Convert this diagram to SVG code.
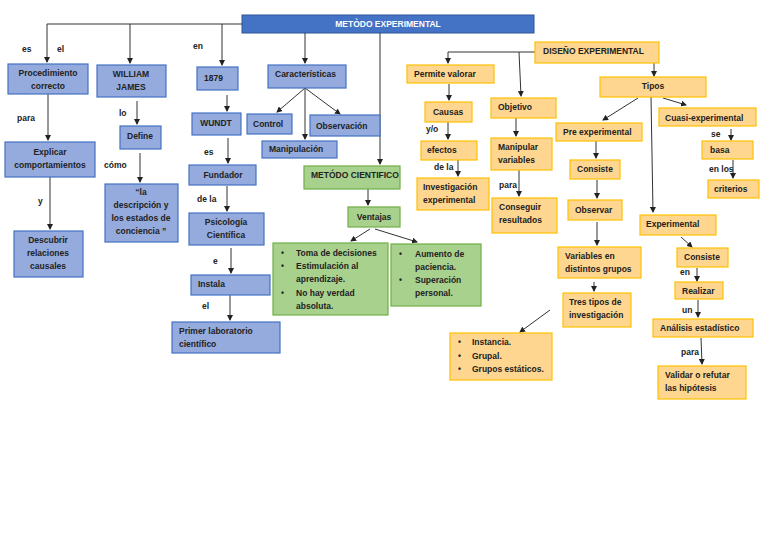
<svg xmlns="http://www.w3.org/2000/svg" width="768" height="543" viewBox="0 0 768 543">
<style>
text{font-family:"Liberation Sans",Arial,sans-serif;font-size:8.5px;font-weight:bold;fill:#222}
.b{fill:#95abdd;stroke:#4472c4;stroke-width:1.2}
.o{fill:#ffd68f;stroke:#ffc000;stroke-width:1.2}
.g{fill:#a9d18e;stroke:#70ad47;stroke-width:1.2}
.c line,.c path{stroke:#333;stroke-width:1;fill:none;marker-end:url(#a)}
.c path.n{marker-end:none}
.l{font-weight:bold}
</style>
<defs><marker id="a" markerWidth="6" markerHeight="6" refX="5" refY="3" orient="auto" markerUnits="userSpaceOnUse"><path d="M0,0L6,3L0,6z" fill="#222"/></marker></defs>
<rect width="768" height="543" fill="#fff"/>
<g id="title"><rect x="242" y="15" width="292" height="18" fill="#4472c4" stroke="#2f5597"/><text x="388" y="27" text-anchor="middle" style="fill:#fff">METÒDO EXPERIMENTAL</text></g>
<g class="c">
<path class="n" d="M242,24H47"/><line x1="47" y1="24" x2="47" y2="62"/>
<line x1="130" y1="24" x2="130" y2="63"/><line x1="222" y1="24" x2="222" y2="65"/>
<line x1="305" y1="33" x2="305" y2="63"/><line x1="380" y1="33" x2="380" y2="164"/>
<line x1="48" y1="94" x2="48" y2="140"/><line x1="50" y1="177" x2="50" y2="229"/>
<line x1="137" y1="101" x2="137" y2="124"/><line x1="140" y1="153" x2="140" y2="182"/>
<line x1="227" y1="95" x2="227" y2="111"/><line x1="228" y1="138" x2="228" y2="163"/>
<line x1="227" y1="186" x2="227" y2="211"/><line x1="231" y1="248" x2="231" y2="273"/>
<line x1="230" y1="291" x2="230" y2="320"/>
<line x1="305" y1="88" x2="277" y2="112"/><line x1="305" y1="88" x2="305" y2="139"/><line x1="305" y1="88" x2="340" y2="114"/>
<line x1="368" y1="187" x2="368" y2="205"/><line x1="370" y1="229" x2="351" y2="241"/><line x1="375" y1="229" x2="417" y2="242"/>
<path class="n" d="M535,52H448"/><line x1="448" y1="52" x2="448" y2="63"/>
<line x1="519" y1="52" x2="521" y2="96"/><line x1="654" y1="63" x2="654" y2="76"/>
<line x1="449" y1="84" x2="449" y2="100"/><line x1="448" y1="122" x2="448" y2="139"/><line x1="458" y1="160" x2="458" y2="176"/>
<line x1="516" y1="118" x2="516" y2="136"/><line x1="519" y1="170" x2="519" y2="196"/>
<line x1="638" y1="98" x2="603" y2="120"/><line x1="651" y1="97" x2="653" y2="212"/><line x1="663" y1="98" x2="686" y2="105"/>
<line x1="596" y1="141" x2="596" y2="158"/><line x1="597" y1="180" x2="597" y2="198"/><line x1="597" y1="222" x2="597" y2="245"/>
<line x1="594" y1="282" x2="594" y2="291"/><line x1="550" y1="310" x2="520" y2="332"/>
<line x1="731" y1="129" x2="731" y2="140"/><line x1="733" y1="160" x2="733" y2="178"/>
<line x1="681" y1="237" x2="692" y2="247"/><line x1="697" y1="268" x2="697" y2="281"/><line x1="698" y1="300" x2="698" y2="317"/><line x1="701" y1="338" x2="702" y2="364"/>
</g>
<g id="lbl">
<text x="22" y="52">es</text><text x="57" y="52">el</text><text x="17" y="121">para</text><text x="38" y="204">y</text>
<text x="119" y="116">lo</text><text x="104" y="168">cómo</text><text x="193" y="49">en</text><text x="204" y="155">es</text>
<text x="197" y="202">de la</text><text x="213" y="264">e</text><text x="202" y="309">el</text>
<text x="426" y="132">y/o</text><text x="434" y="170">de la</text><text x="499" y="188">para</text>
<text x="711" y="137">se</text><text x="709" y="172">en los</text><text x="680" y="275">en</text><text x="682" y="313">un</text><text x="681" y="355">para</text>
</g>
<g id="n1"><rect class="b" x="8" y="64" width="80" height="30"/><text x="48" y="76" text-anchor="middle">Procedimiento</text><text x="48" y="89" text-anchor="middle">correcto</text></g>
<g id="n2"><rect class="b" x="97" y="65" width="69" height="32"/><text x="131" y="77" text-anchor="middle">WILLIAM</text><text x="131" y="90" text-anchor="middle">JAMES</text></g>
<g id="n3"><rect class="b" x="197" y="67" width="41" height="23"/><text x="204" y="81">1879</text></g>
<g id="n4"><rect class="b" x="268" y="65" width="78" height="23"/><text x="275" y="77">Características</text></g>
<g id="n5"><rect class="b" x="5" y="142" width="90" height="35"/><text x="50" y="155" text-anchor="middle">Explicar</text><text x="50" y="168" text-anchor="middle">comportamientos</text></g>
<g id="n6"><rect class="b" x="14" y="231" width="69" height="46"/><text x="48" y="243" text-anchor="middle">Descubrir</text><text x="48" y="256" text-anchor="middle">relaciones</text><text x="48" y="269" text-anchor="middle">causales</text></g>
<g id="n7"><rect class="b" x="120" y="126" width="41" height="23"/><text x="140" y="139" text-anchor="middle">Define</text></g>
<g id="n8"><rect class="b" x="105" y="184" width="73" height="58"/><text x="141" y="195" text-anchor="middle">“la</text><text x="141" y="208" text-anchor="middle">descripción y</text><text x="141" y="221" text-anchor="middle">los estados de</text><text x="141" y="234" text-anchor="middle">conciencia ”</text></g>
<g id="n9"><rect class="b" x="192" y="113" width="49" height="22"/><text x="216" y="126" text-anchor="middle">WUNDT</text></g>
<g id="n10"><rect class="b" x="189" y="165" width="67" height="20"/><text x="223" y="178" text-anchor="middle">Fundador</text></g>
<g id="n11"><rect class="b" x="189" y="213" width="75" height="32"/><text x="226" y="225" text-anchor="middle">Psicología</text><text x="226" y="238" text-anchor="middle">Científica</text></g>
<g id="n12"><rect class="b" x="191" y="275" width="79" height="20"/><text x="198" y="287">Instala</text></g>
<g id="n13"><rect class="b" x="172" y="322" width="108" height="31"/><text x="179" y="334">Primer laboratorio</text><text x="179" y="347">científico</text></g>
<g id="n14"><rect class="b" x="247" y="114" width="45" height="20"/><text x="253" y="127">Control</text></g>
<g id="n15"><rect class="b" x="310" y="115" width="70" height="21"/><text x="316" y="129">Observación</text></g>
<g id="n16"><rect class="b" x="262" y="141" width="75" height="17"/><text x="269" y="152">Manipulación</text></g>
<g id="n17"><rect class="g" x="304" y="166" width="96" height="23"/><text x="311" y="178">METÓDO CIENTIFICO</text></g>
<g id="n18"><rect class="g" x="348" y="207" width="52" height="20"/><text x="374" y="220" text-anchor="middle">Ventajas</text></g>
<g id="n19"><rect class="g" x="273" y="243" width="115" height="72"/>
<text x="281" y="256">•</text><text x="296" y="256">Toma de decisiones</text><text x="281" y="269">•</text><text x="296" y="269">Estimulación al</text><text x="296" y="282">aprendizaje.</text><text x="281" y="296">•</text><text x="296" y="296">No hay verdad</text><text x="296" y="309">absoluta.</text></g>
<g id="n20"><rect class="g" x="391" y="244" width="90" height="62"/>
<text x="399" y="257">•</text><text x="415" y="257">Aumento de</text><text x="415" y="270">paciencia.</text><text x="399" y="283">•</text><text x="415" y="283">Superación</text><text x="415" y="296">personal.</text></g>
<g id="n21"><rect class="o" x="535" y="42" width="124" height="21"/><text x="543" y="54">DISEÑO EXPERIMENTAL</text></g>
<g id="n22"><rect class="o" x="407" y="65" width="87" height="18"/><text x="414" y="77">Permite valorar</text></g>
<g id="n23"><rect class="o" x="425" y="102" width="47" height="20"/><text x="448" y="115" text-anchor="middle">Causas</text></g>
<g id="n24"><rect class="o" x="421" y="141" width="56" height="19"/><text x="427" y="153">efectos</text></g>
<g id="n25"><rect class="o" x="417" y="178" width="72" height="32"/><text x="423" y="190">Investigación</text><text x="423" y="203">experimental</text></g>
<g id="n26"><rect class="o" x="491" y="98" width="65" height="20"/><text x="498" y="110">Objetivo</text></g>
<g id="n27"><rect class="o" x="491" y="138" width="61" height="32"/><text x="498" y="150">Manipular</text><text x="498" y="163">variables</text></g>
<g id="n28"><rect class="o" x="492" y="198" width="65" height="35"/><text x="499" y="210">Conseguir</text><text x="499" y="223">resultados</text></g>
<g id="n29"><rect class="o" x="600" y="77" width="106" height="20"/><text x="653" y="89" text-anchor="middle">Tipos</text></g>
<g id="n30"><rect class="o" x="556" y="123" width="86" height="18"/><text x="563" y="135">Pre experimental</text></g>
<g id="n31"><rect class="o" x="659" y="108" width="97" height="18"/><text x="665" y="121">Cuasi-experimental</text></g>
<g id="n32"><rect class="o" x="702" y="141" width="51" height="18"/><text x="710" y="153">basa</text></g>
<g id="n33"><rect class="o" x="708" y="180" width="51" height="18"/><text x="714" y="192">criterios</text></g>
<g id="n34"><rect class="o" x="570" y="160" width="50" height="19"/><text x="577" y="172">Consiste</text></g>
<g id="n35"><rect class="o" x="568" y="200" width="54" height="20"/><text x="575" y="213">Observar</text></g>
<g id="n36"><rect class="o" x="558" y="247" width="83" height="31"/><text x="565" y="259">Variables en</text><text x="565" y="272">distintos grupos</text></g>
<g id="n37"><rect class="o" x="563" y="293" width="68" height="34"/><text x="569" y="305">Tres tipos de</text><text x="569" y="318">investigación</text></g>
<g id="n38"><rect class="o" x="450" y="333" width="102" height="47"/>
<text x="458" y="345">•</text><text x="472" y="345">Instancia.</text><text x="458" y="359">•</text><text x="472" y="359">Grupal.</text><text x="458" y="372">•</text><text x="472" y="372">Grupos estáticos.</text></g>
<g id="n39"><rect class="o" x="640" y="215" width="76" height="20"/><text x="646" y="227">Experimental</text></g>
<g id="n40"><rect class="o" x="677" y="248" width="51" height="19"/><text x="684" y="260">Consiste</text></g>
<g id="n41"><rect class="o" x="675" y="282" width="48" height="17"/><text x="682" y="294">Realizar</text></g>
<g id="n42"><rect class="o" x="653" y="319" width="100" height="18"/><text x="660" y="331">Análisis estadístico</text></g>
<g id="n43"><rect class="o" x="658" y="366" width="88" height="33"/><text x="665" y="378">Validar o refutar</text><text x="665" y="391">las hipótesis</text></g>
</svg>
